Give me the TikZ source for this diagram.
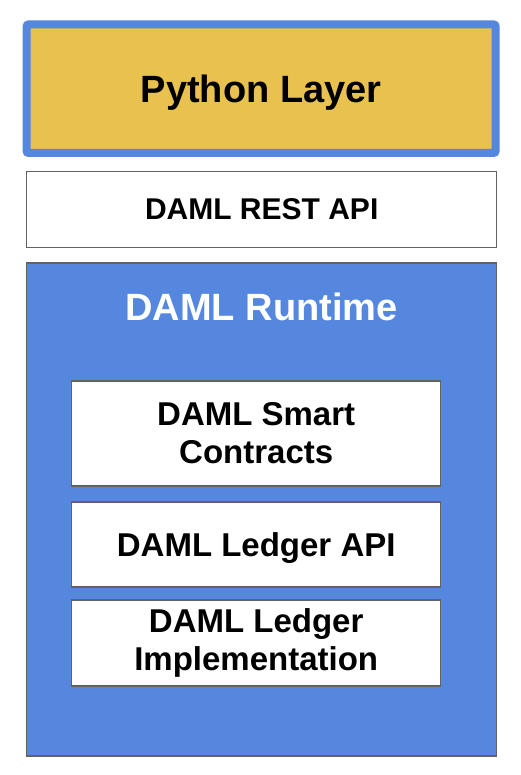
\documentclass[tikz,border=0pt]{standalone}
\usepackage{fontspec}
\setmainfont{Liberation Sans}
\usepackage{xcolor}
\definecolor{layeryellow}{HTML}{E8C14F}
\definecolor{layerblue}{HTML}{5687DF}
\definecolor{edgegray}{HTML}{626262}

\begin{document}
\begin{tikzpicture}[x=1pt, y=-1pt,
    layer/.style={draw=edgegray, line width=1.5pt, fill=white, inner sep=0pt, align=center, font=\bfseries\fontsize{30}{35}\selectfont},
    inner layer/.style={layer, minimum width=369pt, font=\bfseries\fontsize{33}{38}\selectfont}]
    \useasboundingbox (0, 0) rectangle (520, 775);

    \node[draw=layerblue, line width=8pt, rounded corners=2pt, fill=layeryellow, minimum width=469pt, minimum height=128.5pt, inner sep=0pt, text depth=0pt, font=\bfseries\fontsize{38}{44}\selectfont] (python) at (261.1, 88.7) {Python Layer};
    \node[layer, minimum width=470pt, minimum height=75.6pt] (rest) at (261.7, 209.5) {DAML REST API};
    \node[layer, fill=layerblue, minimum width=470pt, minimum height=492.7pt] (runtime) at (261.7, 509.6) {};
    \node[text=white, font=\bfseries\fontsize{38}{44}\selectfont] (runtimetitle) at (261.5, 306.5) {DAML Runtime};

    \node[inner layer, minimum height=105pt] (contracts) at (256.2, 433.5) {DAML Smart\\Contracts};
    \node[inner layer, minimum height=85pt, text depth=0pt] (ledgerapi) at (256.2, 544.7) {DAML Ledger API};
    \node[inner layer, minimum height=86pt] (ledgerimpl) at (256.2, 643) {DAML Ledger\\Implementation};
\end{tikzpicture}
\end{document}
